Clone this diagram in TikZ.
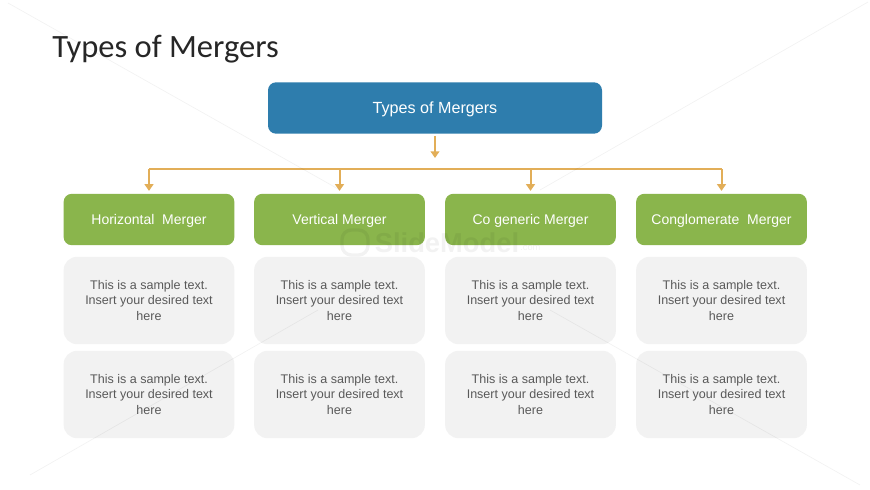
\documentclass[tikz,border=0pt]{standalone}
\usepackage{fontspec}
\setmainfont{Liberation Sans}
\newfontfamily\titlefont{Carlito}
\definecolor{topblue}{HTML}{2E7DAD}
\definecolor{headgreen}{HTML}{8AB54C}
\definecolor{bodygray}{HTML}{F2F2F2}
\definecolor{bodytext}{HTML}{595959}
\definecolor{linkgold}{HTML}{E2AE58}
\usetikzlibrary{positioning,arrows.meta}
\tikzset{
	box/.style={rounded corners=6pt,minimum width=128pt,minimum height=38.5pt,inner sep=0pt,align=center,font=\fontsize{10.5}{12}\selectfont},
	topbox/.style={box,fill=topblue,text=white,minimum width=250.5pt,text height=8.2pt,text depth=0pt,font=\fontsize{12.1}{13}\selectfont},
	headbox/.style={box,fill=headgreen,text=white,text height=8.2pt,text depth=0pt},
	textbox/.style={box,fill=bodygray,text=bodytext,rounded corners=10pt,minimum height=65.5pt,font=\fontsize{9.4}{11.6}\selectfont},
	link/.style={draw=linkgold,line width=1.5pt,-{Triangle[length=5pt,width=6.5pt]}},
	faint/.style={draw=black,opacity=0.05,line width=0.5pt}
}
\begin{document}
\begin{tikzpicture}[x=0.75pt,y=-0.75pt,line join=round]
	\useasboundingbox (0,0) rectangle (870,489);
	\fill[white] (0,0) rectangle (870,489);
	\node[anchor=base west,inner sep=0pt,text=black!85,font=\titlefont\fontsize{24.4}{26}\selectfont] (title) at (52,57) {Types of Mergers};
	\node[topbox] (top) at (435,108) {Types of Mergers};
	\foreach \n/\x/\lab in {a/149/Horizontal~~Merger,b/339.5/Vertical Merger,c/530.5/Co generic Merger,d/721.5/Conglomerate~~Merger}{
		\node[headbox] (head\n) at (\x,219.5) {\lab};
		\node[textbox] (one\n) at (\x,300.5) {This is a sample text.\\Insert your desired text\\here};
		\node[textbox] (two\n) at (\x,394.5) {This is a sample text.\\Insert your desired text\\here};
		\coordinate (bar\n) at (\x,169);
		\draw[link,shorten >=2pt] (bar\n)--(head\n.north);
	}
	\coordinate (drop) at (435,158);
	\draw[link,shorten <=1.5pt] (top.south)--(drop);
	\draw[draw=linkgold,line width=1.5pt] (bara)--(bard);
	% watermark
	\draw[faint] (8,3)--(340,190);
	\draw[faint] (868,2)--(540,190);
	\draw[faint] (318,310)--(30,475);
	\draw[faint] (550,310)--(860,485);
	\node[text=black,opacity=0.05,font=\bfseries\fontsize{20.5}{22}\selectfont] (mark) at (447,243) {SlideModel};
	\node[anchor=west,inner sep=0pt,text=black,opacity=0.05,font=\fontsize{7}{8}\selectfont] (markcom) at (520,248) {.com};
	\draw[draw=black,opacity=0.05,line width=2.5pt,rounded corners=7pt] (342,230) rectangle (368,255);
\end{tikzpicture}
\end{document}
